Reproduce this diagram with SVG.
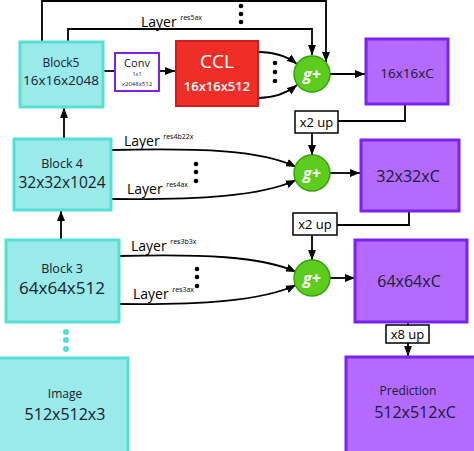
<svg xmlns="http://www.w3.org/2000/svg" width="474" height="451" viewBox="0 0 474 451">
<defs>
<marker id="ah" markerUnits="userSpaceOnUse" markerWidth="10" markerHeight="8" refX="10" refY="4" orient="auto"><path d="M0,0 L10,4 L0,8 z" fill="#000"/></marker>
<style>
.teal{fill:#9aeaea;stroke:#55e0d6;stroke-width:3}
.purp{fill:#b46aff;stroke:#7a22ee;stroke-width:3}
.ccl{fill:#ef2e28;stroke:#d41a1a;stroke-width:2}
.gp{fill:#5ccd1c;stroke:#3c9e12;stroke-width:1.5}
.box{fill:#fff;stroke:#000;stroke-width:1.5}
.cv{fill:#fff;stroke:#7a22ee;stroke-width:2}
.ln{fill:none;stroke:#000;stroke-width:1.8}
.t{font-family:"Open Sans","Liberation Sans",sans-serif;fill:#14202e;text-anchor:middle}
.lab{font-family:"Open Sans","Liberation Sans",sans-serif;fill:#000;font-size:14px}
.sup{font-size:7px}
.g{font-family:"Open Sans","Liberation Sans",sans-serif;fill:#fff;font-weight:bold;font-style:italic;font-size:16px;text-anchor:middle}
.dot{fill:#000}
.tdot{fill:#4fe0d6}
</style>
</defs>
<g id="connectors">
<path class="ln" d="M42,41 V1 H326 V62" marker-end="url(#ah)"/>
<path class="ln" d="M68,41 V29 H312 V55" marker-end="url(#ah)"/>
<path class="ln" d="M103,71 H114"/>
<path class="ln" d="M159,71 H175" marker-end="url(#ah)"/>
<path class="ln" d="M258,52 C276,52 288,57 297,64" marker-end="url(#ah)"/>
<path class="ln" d="M258,98 C276,98 288,92 297,85" marker-end="url(#ah)"/>
<path class="ln" d="M330,74 H365" marker-end="url(#ah)"/>
<path class="ln" d="M405,104 V121 H338"/>
<path class="ln" d="M312,133 V155" marker-end="url(#ah)"/>
<path class="ln" d="M111,150 C200,148 262,150 296,167" marker-end="url(#ah)"/>
<path class="ln" d="M111,199 C200,200 262,196 296,180" marker-end="url(#ah)"/>
<path class="ln" d="M330,173 H360" marker-end="url(#ah)"/>
<path class="ln" d="M409,211 V225 H337"/>
<path class="ln" d="M312,235 V260" marker-end="url(#ah)"/>
<path class="ln" d="M119,256 C200,254 262,256 296,272" marker-end="url(#ah)"/>
<path class="ln" d="M119,304 C200,305 262,301 296,285" marker-end="url(#ah)"/>
<path class="ln" d="M330,278 H355" marker-end="url(#ah)"/>
<path class="ln" d="M408,322 V325"/>
<path class="ln" d="M408,342 V356" marker-end="url(#ah)"/>
<path class="ln" d="M64,138 V108" marker-end="url(#ah)"/>
<path class="ln" d="M61,239 V211" marker-end="url(#ah)"/>
<text class="lab" x="141" y="27">Layer <tspan class="sup" dy="-7">res5ax</tspan></text>
<text class="lab" x="124" y="146">Layer <tspan class="sup" dy="-7">res4b22x</tspan></text>
<text class="lab" x="127" y="194">Layer <tspan class="sup" dy="-7">res4ax</tspan></text>
<text class="lab" x="131" y="251">Layer <tspan class="sup" dy="-7">res3b3x</tspan></text>
<text class="lab" x="133" y="299">Layer <tspan class="sup" dy="-7">res3ax</tspan></text>
<circle class="dot" cx="241" cy="6" r="2.3"/><circle class="dot" cx="241" cy="14" r="2.3"/><circle class="dot" cx="241" cy="22" r="2.3"/>
<circle class="dot" cx="275" cy="63" r="2.3"/><circle class="dot" cx="275" cy="72" r="2.3"/><circle class="dot" cx="275" cy="81" r="2.3"/>
<circle class="dot" cx="196" cy="164" r="2.3"/><circle class="dot" cx="196" cy="172" r="2.3"/><circle class="dot" cx="196" cy="181" r="2.3"/>
<circle class="dot" cx="197" cy="269" r="2.3"/><circle class="dot" cx="197" cy="277" r="2.3"/><circle class="dot" cx="197" cy="286" r="2.3"/>
<circle class="tdot" cx="66" cy="332" r="3"/><circle class="tdot" cx="66" cy="340" r="3"/><circle class="tdot" cx="66" cy="349" r="3"/>
</g>
<g id="block5"><rect class="teal" x="20" y="42" width="83" height="65"/><text class="t" x="61" y="67" font-size="12">Block5</text><text class="t" x="61" y="85" font-size="13.5">16x16x2048</text></g>
<g id="conv"><rect class="cv" x="115" y="53" width="44" height="38"/><text class="t" x="137" y="67" font-size="11">Conv</text><text class="t" x="137" y="76" font-size="5.5">1x1</text><text class="t" x="137" y="86" font-size="6">x2048x512</text></g>
<g id="ccl"><rect class="ccl" x="176" y="41" width="82" height="65"/><text class="t" x="217" y="68" font-size="19" style="fill:#fff">CCL</text><text class="t" x="217" y="91" font-size="13" font-weight="600" style="fill:#fff">16x16x512</text></g>
<g id="gplus1"><circle class="gp" cx="312" cy="74" r="18"/><text class="g" x="312" y="80">g+</text></g>
<g id="out16"><rect class="purp" x="366" y="39" width="82" height="65"/><text class="t" x="407" y="78" font-size="13.5">16x16xC</text></g>
<g id="up1"><rect class="box" x="295" y="111" width="43" height="22"/><text class="t" x="316.5" y="127" font-size="13" style="fill:#000">x2 up</text></g>
<g id="block4"><rect class="teal" x="14" y="139" width="97" height="71"/><text class="t" x="62" y="168" font-size="12.5">Block 4</text><text class="t" x="62" y="188" font-size="15.5">32x32x1024</text></g>
<g id="gplus2"><circle class="gp" cx="312" cy="173" r="18"/><text class="g" x="312" y="179">g+</text></g>
<g id="out32"><rect class="purp" x="361" y="140" width="98" height="71"/><text class="t" x="408" y="182" font-size="16">32x32xC</text></g>
<g id="up2"><rect class="box" x="293" y="213" width="44" height="22"/><text class="t" x="315" y="229" font-size="13" style="fill:#000">x2 up</text></g>
<g id="block3"><rect class="teal" x="6" y="240" width="113" height="82"/><text class="t" x="62" y="273" font-size="12.5">Block 3</text><text class="t" x="62" y="294" font-size="17">64x64x512</text></g>
<g id="gplus3"><circle class="gp" cx="312" cy="278" r="18"/><text class="g" x="312" y="284">g+</text></g>
<g id="out64"><rect class="purp" x="355" y="240" width="112" height="82"/><text class="t" x="409" y="287" font-size="16">64x64xC</text></g>
<g id="up8"><rect class="box" x="386" y="325" width="43" height="18"/><text class="t" x="407.5" y="339" font-size="13" style="fill:#000">x8 up</text></g>
<g id="image"><rect class="teal" x="-2" y="358" width="130" height="96"/><text class="t" x="65" y="398" font-size="12">Image</text><text class="t" x="65" y="420" font-size="16">512x512x3</text></g>
<g id="prediction"><rect class="purp" x="346" y="357" width="130" height="96"/><text class="t" x="408" y="395" font-size="12">Prediction</text><text class="t" x="415" y="418" font-size="16">512x512xC</text></g>
</svg>
